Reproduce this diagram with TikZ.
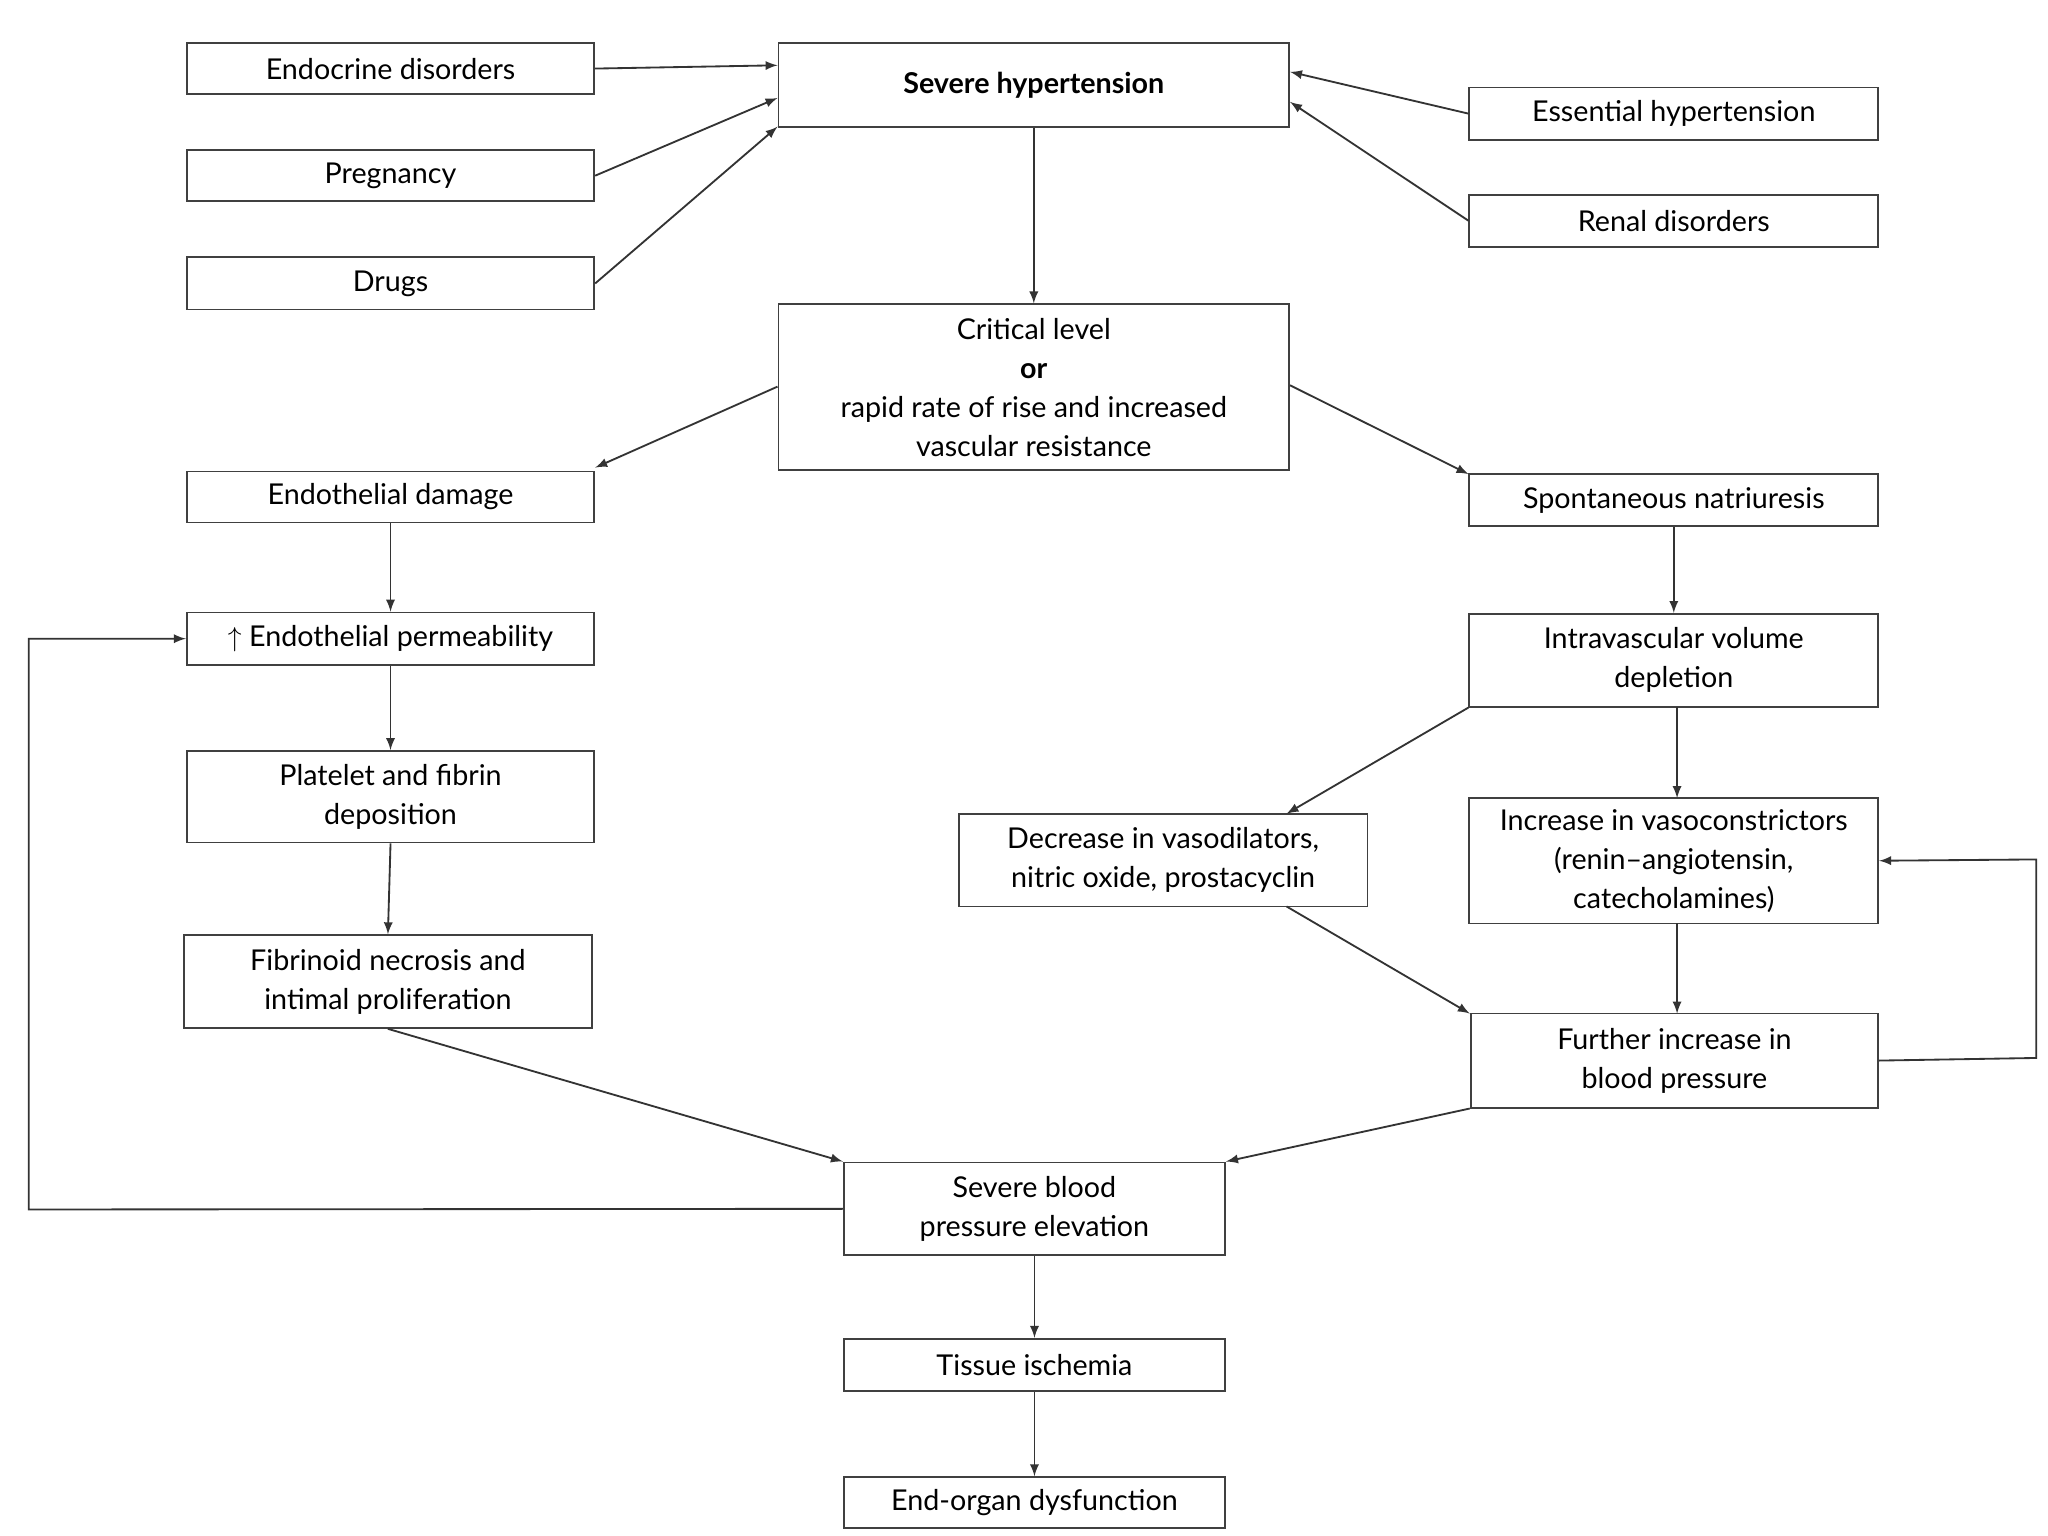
\documentclass[tikz,border=0pt]{standalone}
\usepackage{fontspec}
\setmainfont{Lato}
\begin{document}
\begin{tikzpicture}[x=0.02cm,y=-0.02cm,
 bx/.style={draw=black!75,line width=0.8pt,align=center,inner sep=0pt,font=\fontsize{12.5}{17}\selectfont},
 ar/.style={draw=black!80,line width=0.8pt,-latex}]
\useasboundingbox (0,0) rectangle (1568,1176);
\newcommand{\bxx}[6]{\node[bx,minimum width=(#4-#2)*0.02cm,minimum height=(#5-#3)*0.02cm] (#1) at ({(#2+#4)/2},{(#3+#5)/2}) {#6};}
\bxx{endo}{143}{33}{455}{72}{Endocrine disorders}
\bxx{preg}{143}{115}{455}{154}{Pregnancy}
\bxx{drugs}{143}{197}{455}{237}{Drugs}
\bxx{sev}{596}{33}{987}{97}{\textbf{Severe hypertension}}
\bxx{ess}{1125}{67}{1438}{107}{Essential hypertension}
\bxx{renal}{1125}{149}{1438}{189}{Renal disorders}
\bxx{crit}{596}{233}{987}{360}{Critical level\\\textbf{or}\\rapid rate of rise and increased\\vascular resistance}
\bxx{endam}{143}{361}{455}{400}{Endothelial damage}
\bxx{spont}{1125}{363}{1438}{403}{Spontaneous natriuresis}
\bxx{perm}{143}{469}{455}{509}{$\uparrow$ Endothelial permeability}
\bxx{intra}{1125}{470}{1438}{541}{Intravascular volume\\depletion}
\bxx{plat}{143}{575}{455}{645}{Platelet and fibrin\\deposition}
\bxx{decr}{734}{623}{1047}{694}{Decrease in vasodilators,\\nitric oxide, prostacyclin}
\bxx{incr}{1125}{611}{1438}{707}{Increase in vasoconstrictors\\(renin--angiotensin,\\catecholamines)}
\bxx{fibr}{141}{716}{453}{787}{Fibrinoid necrosis and\\intimal proliferation}
\bxx{further}{1126}{776}{1438}{848}{Further increase in\\blood pressure}
\bxx{sbp}{646}{890}{938}{961}{Severe blood\\pressure elevation}
\bxx{tissue}{646}{1025}{938}{1065}{Tissue ischemia}
\bxx{endorg}{646}{1131}{938}{1170}{End-organ dysfunction}
\draw[ar] (endo.east) -- (sev.west |- 0,50);
\draw[ar] (preg.east) -- (sev.west |- 0,75);
\draw[ar] (drugs.east) -- (sev.west |- 0,97);
\draw[ar] (ess.west) -- (sev.east |- 0,55);
\draw[ar] (renal.west) -- (sev.east |- 0,78);
\draw[ar] (sev.south) -- (crit.north);
\draw[ar] (crit.west |- 0,296) -- (endam.east |- 0,358);
\draw[ar] (crit.east |- 0,295) -- (spont.west |- 0,363);
\draw[ar] (endam.south) -- (perm.north);
\draw[ar] (perm.south) -- (plat.north);
\draw[ar] (plat.south) -- (fibr.north);
\draw[ar] (spont.south) -- (intra.north);
\draw[ar] (intra.south west) -- (985,623);
\draw[ar] (1284,541) -- (1284,611);
\draw[ar] (985,694) -- (further.west |- 0,776);
\draw[ar] (1284,707) -- (1284,776);
\draw[ar] (further.east) -- (1559,810) -- (1559,658) -- (incr.east);
\draw[ar] (fibr.south) -- (sbp.north west);
\draw[ar] (further.south west) -- (sbp.north east);
\draw[ar] (sbp.west) -- (22,926) -- (22,489) -- (perm.west);
\draw[ar] (sbp.south) -- (tissue.north);
\draw[ar] (tissue.south) -- (endorg.north);
\end{tikzpicture}
\end{document}
